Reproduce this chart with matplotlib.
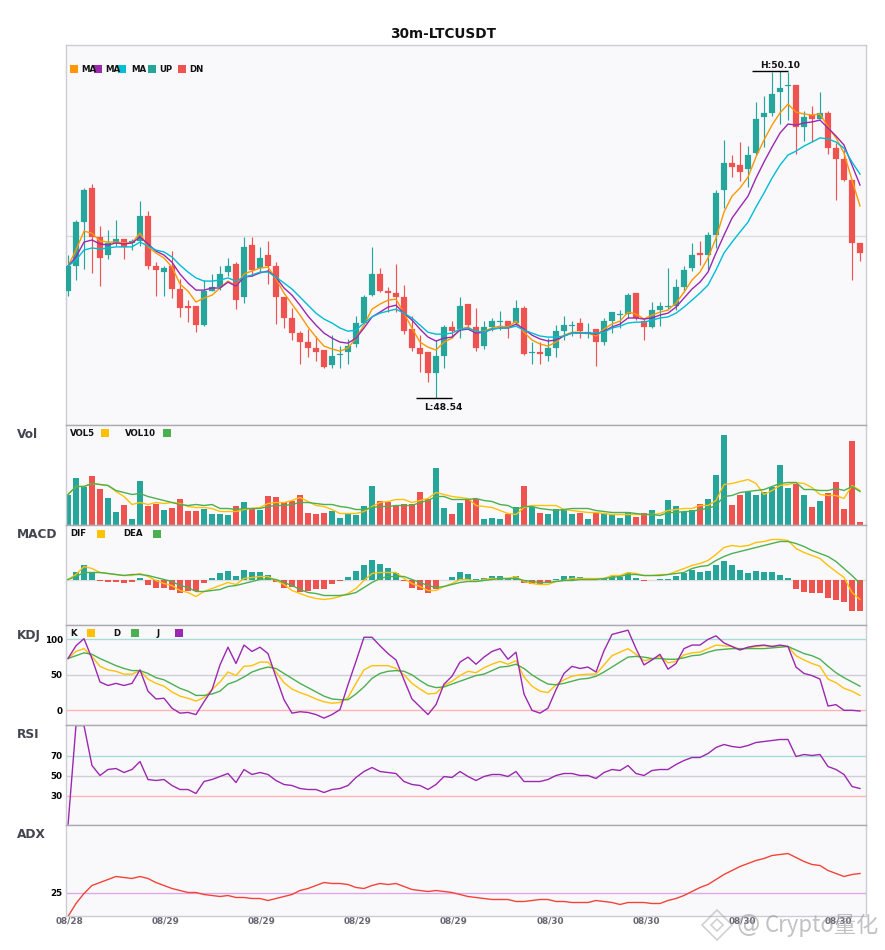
import matplotlib
matplotlib.use('Agg')
import matplotlib.pyplot as plt
from matplotlib.patches import Rectangle

opens = [49.050, 49.169, 49.379, 49.542, 49.308, 49.222, 49.280, 49.298, 49.280, 49.289,
         49.408, 49.169, 49.141, 49.169, 49.060, 48.978, 48.978, 48.888, 49.050, 49.069,
         49.141, 49.179, 49.022, 49.270, 49.160, 49.222, 49.169, 49.022, 48.922, 48.850,
         48.807, 48.779, 48.769, 48.697, 48.745, 48.759, 48.798, 48.898, 49.031, 49.132,
         49.050, 49.041, 49.022, 48.869, 48.779, 48.759, 48.660, 48.740, 48.879, 48.869,
         48.988, 48.879, 48.788, 48.879, 48.902, 48.907, 48.898, 48.969, 48.755, 48.759,
         48.740, 48.779, 48.859, 48.883, 48.898, 48.845, 48.869, 48.807, 48.907, 48.936,
         48.941, 49.041, 48.907, 48.879, 48.960, 48.974, 48.978, 49.069, 49.160, 49.232,
         49.222, 49.317, 49.532, 49.661, 49.651, 49.632, 49.709, 49.881, 49.900, 50.000,
         50.028, 50.033, 49.833, 49.890, 49.871, 49.900, 49.732, 49.680, 49.580, 49.280]
highs = [49.222, 49.389, 49.542, 49.561, 49.360, 49.341, 49.389, 49.298, 49.298, 49.479,
         49.432, 49.188, 49.169, 49.241, 49.108, 49.007, 48.978, 49.103, 49.132, 49.169,
         49.208, 49.188, 49.308, 49.308, 49.261, 49.289, 49.188, 49.022, 48.969, 48.859,
         48.869, 48.836, 48.769, 48.840, 48.788, 48.822, 48.931, 49.031, 49.261, 49.160,
         49.069, 49.179, 49.079, 48.931, 48.840, 48.759, 48.817, 48.888, 48.907, 49.022,
         48.988, 48.969, 48.907, 48.922, 48.955, 48.907, 49.007, 48.978, 48.807, 48.807,
         48.826, 48.888, 48.931, 48.907, 48.922, 48.898, 48.869, 48.922, 48.950, 48.960,
         49.041, 49.041, 48.922, 48.998, 48.998, 49.160, 49.108, 49.169, 49.280, 49.289,
         49.331, 49.532, 49.771, 49.699, 49.761, 49.742, 49.952, 49.981, 50.095, 50.100,
         50.095, 50.033, 49.909, 49.933, 50.000, 49.909, 49.756, 49.723, 49.580, 49.280]
lows = [49.026, 49.103, 49.155, 49.137, 49.074, 49.203, 49.265, 49.203, 49.246, 49.265,
        49.155, 49.026, 49.026, 49.017, 48.927, 48.902, 48.854, 48.883, 49.050, 49.055,
        49.122, 48.964, 48.993, 49.122, 49.141, 49.084, 48.893, 48.874, 48.817, 48.702,
        48.736, 48.716, 48.683, 48.683, 48.683, 48.702, 48.783, 48.893, 49.026, 49.045,
        48.950, 48.950, 48.845, 48.764, 48.664, 48.616, 48.540, 48.683, 48.826, 48.826,
        48.874, 48.764, 48.774, 48.859, 48.864, 48.826, 48.888, 48.745, 48.702, 48.702,
        48.716, 48.736, 48.817, 48.836, 48.826, 48.826, 48.693, 48.793, 48.850, 48.874,
        48.922, 48.912, 48.817, 48.874, 48.883, 48.960, 48.960, 49.045, 49.146, 49.174,
        49.151, 49.256, 49.446, 49.594, 49.575, 49.547, 49.699, 49.737, 49.885, 49.847,
        49.866, 49.704, 49.766, 49.761, 49.871, 49.704, 49.484, 49.575, 49.103, 49.193]
closes = [49.169, 49.379, 49.532, 49.308, 49.208, 49.280, 49.298, 49.261, 49.289, 49.408,
          49.169, 49.151, 49.160, 49.060, 48.969, 48.969, 48.888, 49.050, 49.069, 49.132,
          49.169, 49.007, 49.261, 49.151, 49.208, 49.169, 49.022, 48.922, 48.850, 48.807,
          48.779, 48.759, 48.688, 48.740, 48.750, 48.788, 48.898, 49.022, 49.132, 49.050,
          49.041, 49.022, 48.859, 48.779, 48.750, 48.660, 48.740, 48.879, 48.859, 48.978,
          48.888, 48.779, 48.879, 48.907, 48.907, 48.879, 48.969, 48.750, 48.759, 48.750,
          48.779, 48.859, 48.888, 48.888, 48.859, 48.854, 48.807, 48.907, 48.950, 48.941,
          49.031, 48.922, 48.879, 48.960, 48.978, 48.978, 49.069, 49.151, 49.222, 49.222,
          49.317, 49.518, 49.661, 49.642, 49.618, 49.699, 49.871, 49.900, 49.990, 50.019,
          50.033, 49.833, 49.881, 49.871, 49.900, 49.732, 49.680, 49.580, 49.280, 49.232]

ma_fast = [49.169, 49.246, 49.336, 49.327, 49.289, 49.284, 49.284, 49.280, 49.280, 49.327,
           49.261, 49.232, 49.208, 49.165, 49.084, 49.050, 48.998, 49.017, 49.031, 49.065,
           49.098, 49.074, 49.132, 49.146, 49.160, 49.165, 49.108, 49.041, 48.988, 48.936,
           48.879, 48.831, 48.788, 48.774, 48.764, 48.779, 48.826, 48.888, 48.964, 48.988,
           49.007, 49.012, 48.945, 48.874, 48.807, 48.783, 48.769, 48.807, 48.826, 48.869,
           48.879, 48.854, 48.859, 48.874, 48.883, 48.879, 48.907, 48.854, 48.817, 48.798,
           48.788, 48.807, 48.840, 48.854, 48.854, 48.850, 48.836, 48.869, 48.893, 48.907,
           48.950, 48.941, 48.917, 48.936, 48.950, 48.960, 48.993, 49.045, 49.103, 49.141,
           49.208, 49.303, 49.427, 49.503, 49.542, 49.594, 49.690, 49.771, 49.842, 49.900,
           49.942, 49.904, 49.895, 49.890, 49.895, 49.833, 49.781, 49.709, 49.580, 49.456]
ma_mid = [49.169, 49.213, 49.284, 49.294, 49.275, 49.270, 49.280, 49.275, 49.280, 49.308,
          49.275, 49.241, 49.222, 49.188, 49.132, 49.089, 49.055, 49.055, 49.065, 49.065,
          49.093, 49.074, 49.117, 49.122, 49.137, 49.146, 49.117, 49.065, 49.031, 48.983,
          48.931, 48.888, 48.850, 48.826, 48.807, 48.802, 48.826, 48.874, 48.927, 48.950,
          48.974, 48.983, 48.945, 48.912, 48.869, 48.831, 48.812, 48.826, 48.831, 48.864,
          48.869, 48.850, 48.854, 48.869, 48.874, 48.874, 48.893, 48.869, 48.840, 48.822,
          48.812, 48.817, 48.836, 48.850, 48.850, 48.850, 48.845, 48.859, 48.879, 48.893,
          48.922, 48.922, 48.917, 48.922, 48.936, 48.945, 48.974, 49.017, 49.060, 49.093,
          49.141, 49.232, 49.317, 49.398, 49.451, 49.503, 49.589, 49.666, 49.737, 49.804,
          49.847, 49.842, 49.852, 49.857, 49.866, 49.828, 49.790, 49.747, 49.651, 49.556]
ma_slow = [49.169, 49.198, 49.246, 49.256, 49.251, 49.256, 49.261, 49.261, 49.261, 49.284,
           49.265, 49.246, 49.237, 49.213, 49.174, 49.141, 49.113, 49.098, 49.098, 49.103,
           49.113, 49.098, 49.117, 49.127, 49.141, 49.141, 49.117, 49.089, 49.060, 49.022,
           48.983, 48.945, 48.917, 48.898, 48.874, 48.859, 48.864, 48.898, 48.927, 48.945,
           48.955, 48.964, 48.945, 48.922, 48.888, 48.854, 48.845, 48.845, 48.850, 48.869,
           48.874, 48.859, 48.854, 48.869, 48.874, 48.874, 48.883, 48.864, 48.850, 48.836,
           48.831, 48.831, 48.836, 48.850, 48.850, 48.850, 48.850, 48.854, 48.874, 48.883,
           48.898, 48.902, 48.902, 48.912, 48.922, 48.927, 48.945, 48.974, 49.007, 49.041,
           49.079, 49.151, 49.232, 49.284, 49.332, 49.379, 49.451, 49.518, 49.589, 49.651,
           49.699, 49.718, 49.742, 49.761, 49.781, 49.776, 49.761, 49.732, 49.666, 49.608]

# volume has no scale in the picture, so relative units
volume = [30, 47, 38, 49, 36, 27, 13, 20, 6, 44, 19, 21, 15, 17, 26, 14, 14, 16, 11, 11,
          10, 19, 23, 17, 15, 29, 28, 23, 24, 30, 12, 11, 12, 14, 7, 12, 10, 19, 39, 24,
          23, 19, 21, 21, 33, 26, 57, 17, 11, 22, 26, 26, 6, 7, 6, 11, 18, 39, 18, 12,
          11, 16, 16, 11, 12, 6, 12, 12, 10, 7, 13, 8, 12, 15, 6, 25, 19, 13, 15, 21,
          26, 50, 90, 20, 30, 33, 30, 33, 38, 60, 37, 41, 30, 18, 24, 32, 43, 16, 84, 3]
vol5 = [30, 38, 38, 41, 40, 39, 33, 28, 20, 22, 20, 22, 21, 22, 21, 18, 17, 17, 16, 13,
        13, 13, 15, 16, 17, 21, 22, 22, 24, 27, 23, 19, 18, 15, 11, 11, 11, 13, 18, 22,
        23, 25, 25, 22, 24, 26, 32, 30, 28, 27, 26, 19, 18, 17, 14, 11, 10, 17, 19, 19,
        19, 19, 15, 14, 13, 12, 12, 11, 10, 10, 10, 10, 10, 10, 11, 14, 15, 16, 16, 19,
        19, 24, 40, 41, 43, 45, 41, 30, 34, 39, 40, 42, 41, 37, 30, 29, 29, 26, 39, 34]
vol10 = [30, 38, 38, 41, 40, 39, 34, 32, 30, 31, 28, 26, 24, 22, 20, 19, 20, 19, 20, 16,
         16, 15, 16, 16, 16, 18, 19, 19, 20, 22, 22, 21, 20, 20, 18, 17, 15, 15, 17, 18,
         18, 19, 19, 19, 22, 24, 28, 28, 25, 25, 25, 26, 24, 23, 20, 19, 15, 18, 18, 16,
         15, 14, 15, 16, 16, 16, 14, 13, 12, 12, 12, 11, 10, 10, 9, 12, 12, 13, 13, 15,
         16, 19, 28, 29, 32, 33, 34, 35, 38, 41, 42, 42, 35, 35, 34, 34, 36, 34, 38, 33]

macd_hist = [0, 8, 15, 7, -1, -2, -2, -3, -2, 2, -5, -8, -8, -10, -13, -11, -11, -3, 2, 7,
             9, 4, 10, 8, 8, 5, -2, -8, -7, -12, -11, -9, -9, -4, -1, 3, 9, 15, 20, 16,
             12, 7, -1, -8, -10, -13, -9, 0, 3, 8, 6, 1, 2, 4, 4, 2, 4, -3, -4, -5,
             -3, 1, 4, 4, 3, 2, 0, 2, 4, 3, 7, 2, -1, 0, 1, 1, 4, 7, 10, 8,
             9, 15, 19, 15, 10, 7, 9, 8, 8, 5, 2, -9, -12, -13, -13, -18, -20, -22, -31, -31]
dif = [0, 5, 13, 11, 7, 6, 5, 4, 4, 6, 3, -1, -4, -6, -11, -13, -17, -12, -9, -6,
       -3, -5, 1, 2, 3, 3, -1, -5, -11, -14, -17, -19, -20, -19, -17, -14, -9, -1, 6, 7,
       7, 7, 1, -4, -7, -11, -11, -7, -4, 0, 0, -2, 0, 1, 1, 1, 3, -2, -4, -5,
       -5, -2, -1, 1, 1, 1, 1, 1, 4, 4, 7, 6, 4, 4, 5, 5, 8, 11, 14, 16,
       19, 25, 32, 34, 33, 34, 37, 38, 40, 40, 39, 31, 27, 24, 21, 14, 8, 2, -13, -20]
dea = [0, 3, 7, 7, 7, 6, 5, 4, 5, 5, 4, 2, 0, -2, -6, -8, -12, -12, -11, -10,
       -7, -6, -4, -2, 0, 1, 0, -3, -6, -10, -13, -14, -16, -16, -16, -15, -13, -8, -3, 1,
       3, 3, 3, 0, -3, -6, -8, -7, -5, -3, -2, -2, -1, 0, 1, 1, 1, -1, -2, -3,
       -3, -2, -1, -1, 0, 0, 0, 1, 2, 3, 5, 5, 4, 4, 4, 5, 6, 7, 11, 13,
       14, 19, 23, 26, 28, 30, 32, 34, 36, 38, 38, 36, 33, 29, 26, 23, 18, 11, 4, -4]

kdj_k = [73, 83, 87, 76, 62, 57, 55, 51, 51, 56, 44, 38, 34, 26, 20, 17, 13, 18, 29, 40,
         54, 49, 62, 63, 68, 68, 54, 39, 30, 25, 21, 16, 12, 10, 11, 18, 38, 57, 63, 63,
         63, 59, 50, 38, 30, 23, 24, 35, 41, 49, 55, 53, 60, 65, 69, 65, 70, 47, 34, 27,
         25, 36, 43, 48, 50, 51, 51, 64, 77, 82, 87, 79, 70, 72, 76, 67, 69, 78, 81, 82,
         87, 92, 91, 90, 86, 88, 90, 91, 90, 91, 90, 77, 71, 66, 62, 44, 39, 31, 27, 21]
kdj_d = [73, 77, 81, 79, 73, 68, 63, 59, 56, 56, 52, 46, 43, 37, 31, 27, 21, 21, 23, 27,
         37, 41, 47, 54, 58, 61, 59, 52, 45, 38, 32, 26, 20, 16, 15, 15, 23, 33, 45, 52,
         55, 56, 55, 50, 42, 35, 32, 33, 37, 41, 45, 49, 51, 56, 61, 62, 65, 59, 50, 43,
         37, 36, 38, 41, 44, 45, 48, 54, 61, 68, 75, 76, 75, 73, 73, 72, 72, 74, 77, 78,
         82, 85, 86, 87, 87, 87, 87, 87, 88, 89, 90, 85, 80, 77, 72, 62, 53, 46, 40, 34]
kdj_j = [73, 91, 101, 73, 40, 35, 38, 35, 38, 57, 27, 16, 17, 3, -4, -3, -6, 12, 29, 64,
         89, 66, 92, 83, 89, 80, 47, 15, -4, -2, -3, -6, -11, -6, 1, 36, 69, 103, 103, 91,
         80, 71, 43, 16, 5, -6, 8, 37, 48, 68, 75, 65, 75, 83, 87, 72, 82, 23, 0, -4,
         3, 29, 52, 62, 59, 61, 54, 84, 107, 110, 113, 87, 64, 71, 79, 58, 66, 87, 92, 92,
         100, 105, 95, 90, 85, 89, 91, 92, 90, 92, 90, 61, 52, 49, 44, 6, 8, 0, 0, -1]

rsi = [0, 100, 100, 60, 50, 56, 57, 53, 56, 64, 46, 45, 46, 40, 36, 36, 32, 44, 46, 49,
       52, 43, 56, 51, 53, 51, 45, 41, 40, 37, 36, 36, 33, 36, 37, 40, 48, 54, 58, 54,
       53, 52, 44, 41, 40, 36, 41, 49, 48, 54, 49, 45, 49, 51, 51, 49, 54, 44, 44, 44,
       46, 50, 52, 52, 50, 50, 47, 53, 56, 55, 60, 52, 50, 55, 56, 56, 61, 65, 68, 68,
       72, 78, 81, 79, 78, 80, 83, 84, 85, 86, 86, 69, 71, 70, 71, 59, 56, 51, 39, 37]

adx = [1, 14, 24, 32, 35, 38, 41, 40, 39, 41, 39, 35, 32, 29, 27, 25, 25, 23, 22, 21,
       22, 20, 20, 19, 19, 17, 19, 21, 23, 27, 29, 32, 35, 34, 34, 33, 30, 29, 32, 34,
       33, 34, 31, 28, 27, 26, 27, 26, 25, 23, 21, 20, 19, 18, 18, 18, 16, 16, 17, 18,
       18, 16, 16, 15, 15, 15, 17, 16, 15, 13, 15, 15, 15, 14, 14, 17, 19, 22, 26, 30,
       33, 38, 43, 47, 51, 54, 57, 59, 62, 63, 64, 60, 56, 53, 52, 47, 44, 41, 43, 44]

tick_idx = [0, 12, 24, 36, 48, 60, 72, 84, 96]
tick_labels = ['08/28', '08/29', '08/29', '08/29', '08/29', '08/30', '08/30', '08/30', '08/30']

UP = '#26A69A'
DN = '#EF5350'
BG = '#F9F9FC'
YEL = '#FFC107'
GRN = '#4CAF50'
PUR = '#9C27B0'
W, H = 885, 950

x = list(range(len(closes)))
colors = [UP if c >= o else DN for o, c in zip(opens, closes)]

fig = plt.figure(figsize=(W / 100, H / 100), dpi=100, facecolor='white')


def panel(top, bottom, ylim, top_color='#AAAAB0'):
    ax = fig.add_axes([65.5 / W, 1 - bottom / H, 800.5 / W, (bottom - top) / H])
    ax.set_facecolor(BG)
    ax.set_xlim(-0.31, 99.75)
    ax.set_ylim(*ylim)
    ax.set_xticks([])
    ax.set_yticks([])
    ax.tick_params(length=0, pad=2, labelsize=6.3)
    for s in ax.spines.values():
        s.set_color('#CCCCD4')
        s.set_linewidth(1)
    ax.spines['top'].set_color(top_color)
    return ax


# main candles
ax = panel(45, 424.5, (48.414, 50.224), top_color='#CCCCD4')
ax.axhline(49.312, color='#DDDDE0', lw=1, zorder=1)
ax.vlines(x, lows, highs, colors=colors, lw=0.85, zorder=2)
body_low = [min(o, c) for o, c in zip(opens, closes)]
body_h = [abs(c - o) for o, c in zip(opens, closes)]
ax.bar(x, body_h, bottom=body_low, width=0.74, color=colors, edgecolor=colors, linewidth=0.15, zorder=3)
ax.plot(x, ma_fast, color='#FF9800', lw=1.0, zorder=4)
ax.plot(x, ma_mid, color=PUR, lw=1.0, zorder=4)
ax.plot(x, ma_slow, color='#00BCD4', lw=1.0, zorder=4)
ax.hlines(50.100, 85.5, 90, color='black', lw=1, zorder=5)
ax.text(89, 50.125, 'H:50.10', ha='center', va='center', fontsize=6.6, fontweight='bold', color='#111111')
ax.hlines(48.540, 43.5, 48, color='black', lw=1, zorder=5)
ax.text(46.9, 48.497, 'L:48.54', ha='center', va='center', fontsize=6.6, fontweight='bold', color='#111111')

# volume
ax = panel(424.5, 524.5, (0, 100))
ax.bar(x, volume, width=0.74, color=colors, zorder=2)
ax.plot(x, vol5, color=YEL, lw=1.0, zorder=3)
ax.plot(x, vol10, color=GRN, lw=1.0, zorder=3)

# macd
ax = panel(524.5, 624.5, (-45, 55))
ax.axhline(0, color='#DDDDE0', lw=1, zorder=1)
ax.bar(x, macd_hist, width=0.74, color=[UP if v >= 0 else DN for v in macd_hist], zorder=2)
ax.plot(x, dif, color=YEL, lw=1.0, zorder=3)
ax.plot(x, dea, color=GRN, lw=1.0, zorder=3)

# kdj
ax = panel(624.5, 724.5, (-20, 121))
ax.axhline(100, color='#A9DCD6', lw=1)
ax.axhline(50, color='#CFCFD4', lw=1)
ax.axhline(0, color='#FFB4B4', lw=1)
ax.plot(x, kdj_k, color=YEL, lw=1.0)
ax.plot(x, kdj_d, color=GRN, lw=1.0)
ax.plot(x, kdj_j, color=PUR, lw=1.0)
ax.set_yticks([0, 50, 100])
for t in ax.get_yticklabels():
    t.set_fontweight('bold')

# rsi
ax = panel(724.5, 824.5, (1, 101))
ax.axhline(70, color='#A9DCD6', lw=1)
ax.axhline(50, color='#CFCFD4', lw=1)
ax.axhline(30, color='#FFB4B4', lw=1)
ax.plot(x, rsi, color=PUR, lw=1.0)
ax.set_yticks([30, 50, 70])
for t in ax.get_yticklabels():
    t.set_fontweight('bold')

# adx
ax = panel(824.5, 915.5, (2, 93))
ax.axhline(25, color='#DDA8E6', lw=1)
ax.plot(x, adx, color='#F44336', lw=1.0)
ax.set_yticks([25])
for t in ax.get_yticklabels():
    t.set_fontweight('bold')
# labels sit a little right of their candles
ax.set_xticks([i + 0.25 for i in tick_idx])
ax.set_xticklabels(tick_labels, fontsize=6.4, fontweight='bold', color='#666670')
ax.tick_params(axis='x', length=0, pad=1)

# overlay in pixels for the titles, legends and watermark
ov = fig.add_axes([0, 0, 1, 1], facecolor='none')
ov.set_xlim(0, W)
ov.set_ylim(H, 0)
ov.axis('off')

ov.text(443.5, 34, '30m-LTCUSDT', ha='center', va='center', fontsize=9.8, fontweight='bold', color='#111111')

for name, ypos in [('Vol', 434.5), ('MACD', 535), ('KDJ', 635), ('RSI', 734.5), ('ADX', 835)]:
    ov.text(17, ypos, name, ha='left', va='center', fontsize=8.7, fontweight='bold', color='#444450')


def legend(items, ypos):
    for label, tx, sq, col in items:
        ov.text(tx, ypos, label, ha='left', va='center', fontsize=6.2, fontweight='bold', color='#111111')
        ov.add_patch(Rectangle((sq, ypos - 4), 8, 8, facecolor=col, edgecolor='none'))


legend([('MA', 81, 70, '#FF9800'), ('MA', 105, 94, PUR), ('MA', 131, 118, '#00BCD4'),
        ('UP', 159, 148, UP), ('DN', 189, 178, DN)], 69)
legend([('VOL5', 70, 101, YEL), ('VOL10', 125, 163, GRN)], 433)
legend([('DIF', 70, 97, YEL), ('DEA', 123, 153, GRN)], 534)
legend([('K', 70, 87, YEL), ('D', 113, 131, GRN), ('J', 157, 175, PUR)], 633)

# watermark
wm = '#9A9AA0'
ov.plot([717], [925], marker='D', ms=15, mfc='none', mec=wm, mew=1.2, alpha=0.45, clip_on=False)
ov.plot([717], [925], marker='D', ms=6, mfc='none', mec=wm, mew=1.2, alpha=0.45, clip_on=False)
ov.text(736, 925, '@', ha='left', va='center', fontsize=17, color=wm, alpha=0.6)
ov.text(765, 925, 'Crypto量化', ha='left', va='center', fontsize=16, color=wm, alpha=0.6,
        family=['Noto Sans CJK SC', 'DejaVu Sans'])

fig.savefig('out.png', dpi=100, facecolor='white')
